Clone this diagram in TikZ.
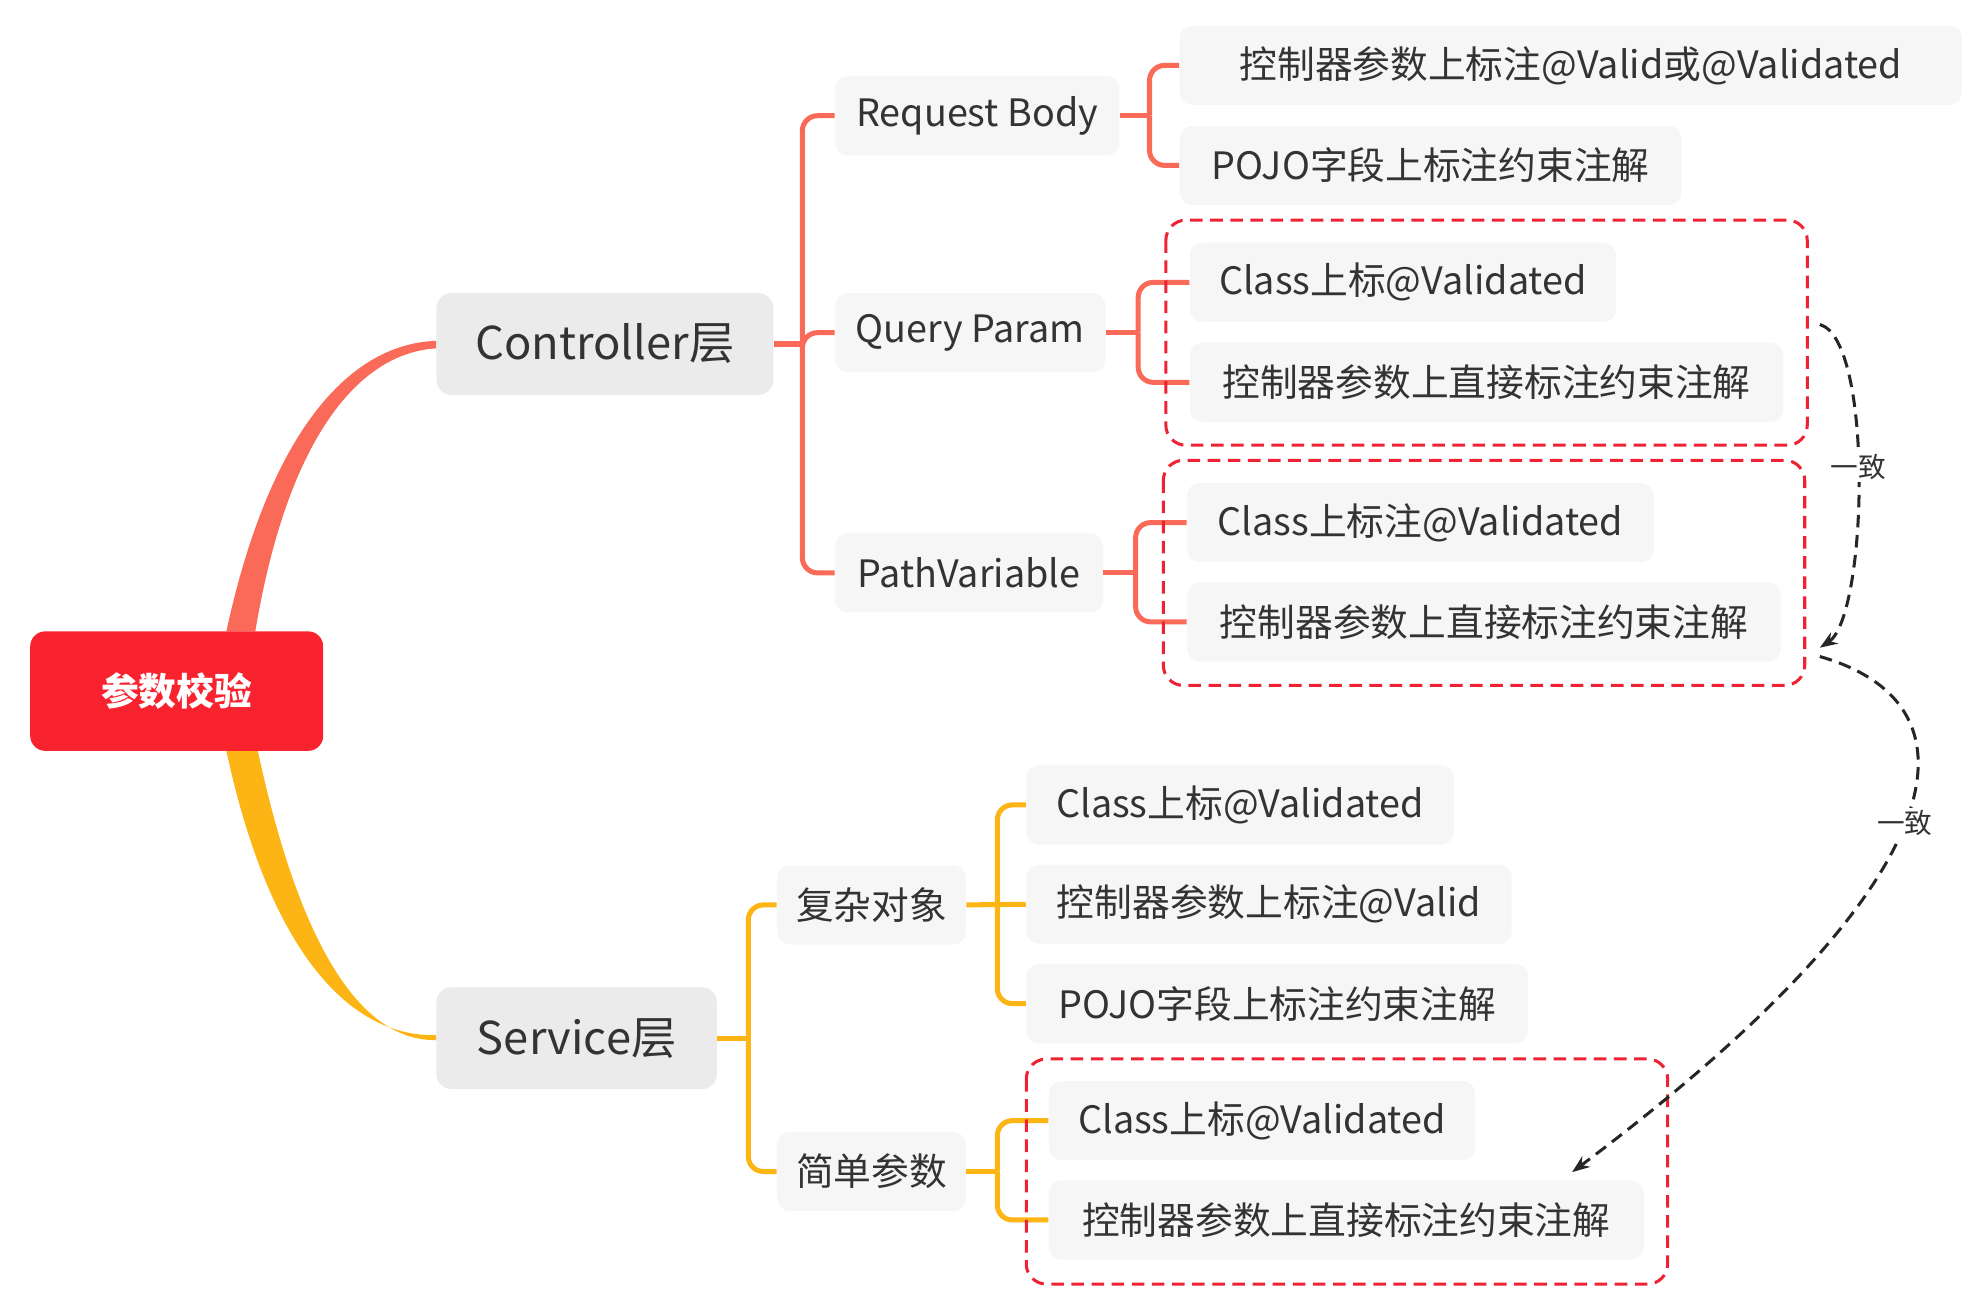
\documentclass[tikz,border=0pt]{standalone}
\usepackage{fontspec}
\setmainfont{Noto Sans CJK SC}
\usetikzlibrary{arrows.meta}
\definecolor{rootred}{HTML}{F9222F}
\definecolor{cred}{HTML}{FA6A58}
\definecolor{corange}{HTML}{FDB515}
\definecolor{boxg}{HTML}{F6F6F6}
\definecolor{boxm}{HTML}{EBEBEB}
\definecolor{txt}{HTML}{333333}
\definecolor{dred}{HTML}{EE2233}
\begin{document}
\begin{tikzpicture}[x=0.5pt,y=-0.5pt,
  leaf/.style={fill=boxg,rounded corners=5pt,minimum height=31.5pt,inner sep=0pt,text=txt,font=\fontsize{15}{18}\selectfont},
  main/.style={fill=boxm,rounded corners=6pt,minimum height=40.5pt,inner sep=0pt,text=txt,font=\fontsize{18}{22}\selectfont},
  rl/.style={draw=cred,line width=2pt,rounded corners=6pt},
  ol/.style={draw=corange,line width=2pt,rounded corners=6pt},
  dbox/.style={draw=dred,line width=1.2pt,dashed,dash pattern=on 5pt off 3pt,rounded corners=8pt},
  darr/.style={draw=black!85,line width=1.2pt,dash pattern=on 5pt off 3pt,-{Stealth[length=7pt]}},
  lab/.style={fill=white,inner sep=1pt,font=\fontsize{11}{13}\selectfont,text=txt}]
\useasboundingbox (0,0) rectangle (1568,1041);
% tapered branches
\fill[cred] (180,502) .. controls (215,340) and (280,273) .. (347,271) -- (347,277) .. controls (290,280) and (230,340) .. (203,502) -- cycle;
\fill[corange] (180,597) .. controls (215,760) and (280,825) .. (347,823) -- (347,827) .. controls (290,828) and (240,760) .. (205,597) -- cycle;
% nodes
\node[fill=rootred,rounded corners=6pt,minimum width=116.5pt,minimum height=47.5pt,text=white,font=\fontsize{15}{18}\selectfont\bfseries] (root) at (140.5,549.5) {参数校验};
\node[main,minimum width=134pt] (ctl) at (481,273.5) {Controller层};
\node[main,minimum width=111.5pt] (svc) at (458.5,825.5) {Service层};
\node[leaf,minimum width=113pt] (rb) at (777,92) {Request Body};
\node[leaf,minimum width=107.5pt] (qp) at (771.5,264.5) {Query Param};
\node[leaf,minimum width=106.5pt] (pv) at (770.5,455.5) {PathVariable};
\node[leaf,minimum width=311pt] (rb1) at (1249,52) {控制器参数上标注@Valid或@Validated};
\node[leaf,minimum width=199.5pt] (rb2) at (1137.5,131.5) {POJO字段上标注约束注解};
\node[leaf,minimum width=169.5pt] (qp1) at (1115.5,224.5) {Class上标@Validated};
\node[leaf,minimum width=236pt] (qp2) at (1182,304) {控制器参数上直接标注约束注解};
\node[leaf,minimum width=185.5pt] (pv1) at (1129.5,415.5) {Class上标注@Validated};
\node[leaf,minimum width=236pt] (pv2) at (1180,494.5) {控制器参数上直接标注约束注解};
\node[leaf,minimum width=75pt] (cx) at (693,719.5) {复杂对象};
\node[leaf,minimum width=75pt] (sp) at (693,931.5) {简单参数};
\node[leaf,minimum width=170pt] (cx1) at (986,640) {Class上标@Validated};
\node[leaf,minimum width=193pt] (cx2) at (1009,719) {控制器参数上标注@Valid};
\node[leaf,minimum width=199.5pt] (cx3) at (1015.5,798) {POJO字段上标注约束注解};
\node[leaf,minimum width=169.5pt] (sp1) at (1003.5,891) {Class上标@Validated};
\node[leaf,minimum width=236.5pt] (sp2) at (1070.5,970) {控制器参数上直接标注约束注解};
% connectors
\coordinate (cj) at (638,273.5);
\draw[rl] (ctl.east) -- (cj);
\draw[rl] (cj) |- (rb.west);
\draw[rl] (cj) |- (qp.west);
\draw[rl] (cj) |- (pv.west);
\coordinate (rj) at (914,92);
\draw[rl] (rb.east) -- (rj); \draw[rl] (rj) |- (rb1.west); \draw[rl] (rj) |- (rb2.west);
\coordinate (qj) at (905,264.5);
\draw[rl] (qp.east) -- (qj); \draw[rl] (qj) |- (qp1.west); \draw[rl] (qj) |- (qp2.west);
\coordinate (pj) at (903,455.5);
\draw[rl] (pv.east) -- (pj); \draw[rl] (pj) |- (pv1.west); \draw[rl] (pj) |- (pv2.west);
\coordinate (sj) at (595,825.5);
\draw[ol] (svc.east) -- (sj); \draw[ol] (sj) |- (cx.west); \draw[ol] (sj) |- (sp.west);
\coordinate (xj) at (793,719.5);
\draw[ol] (cx.east) -- (cx2.west); \draw[ol] (xj) |- (cx1.west); \draw[ol] (xj) |- (cx3.west);
\coordinate (pj2) at (793,931.5);
\draw[ol] (sp.east) -- (pj2); \draw[ol] (pj2) |- (sp1.west); \draw[ol] (pj2) |- (sp2.west);
% dashed boxes
\draw[dbox] (927,175) rectangle (1437,354);
\draw[dbox] (925,366) rectangle (1435,545);
\draw[dbox] (816,842) rectangle (1326,1021);
% dashed arrows
\coordinate (a1) at (1447,258);
\coordinate (a2) at (1447,515);
\coordinate (b1) at (1447,522);
\coordinate (b2) at (1250,932);
\draw[darr] (a1) .. controls (1490,270) and (1485,490) .. node[lab,pos=0.47]{一致} (a2);
\draw[darr] (b1) .. controls (1580,560) and (1560,700) .. node[lab,pos=0.5]{一致} (b2);
\end{tikzpicture}
\end{document}
